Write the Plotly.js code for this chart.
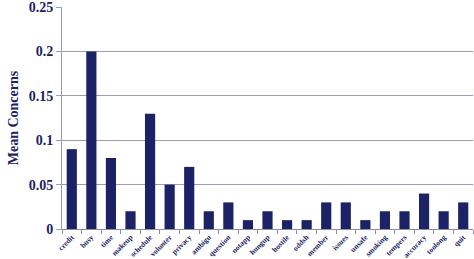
<!DOCTYPE html>
<html><head><meta charset="utf-8">
<script src="https://cdn.plot.ly/plotly-3.0.1.min.js"></script>
<style>html,body{margin:0;padding:0;background:#fff}</style>
</head><body><div id="c" style="width:474px;height:259px"></div>
<script>
const categories = ["credit","busy","time","makeup","schedule","volunter","privacy","ambigu","question","notapp","hungup","hostile","oddsh","member","issues","unsafe","smoking","tempers","accuracy","toolong","quit"];
const meanConcerns = [0.09,0.2,0.08,0.02,0.13,0.05,0.07,0.02,0.03,0.01,0.02,0.01,0.01,0.03,0.03,0.01,0.02,0.02,0.04,0.02,0.03];
const yTicks = [0,0.05,0.1,0.15,0.2,0.25];
const yTickLabels = ["0","0.05","0.1","0.15","0.2","0.25"];
const navy = "#1c2266";
Plotly.newPlot("c",[{type:"bar",x:categories,y:meanConcerns,marker:{color:navy,line:{width:0}},hoverinfo:"none"}],{
  width:474,height:259,margin:{l:62,r:1,t:7,b:30},
  paper_bgcolor:"#fff",plot_bgcolor:"#fff",bargap:0.48,showlegend:false,
  font:{family:"Liberation Serif, Times New Roman, serif",color:navy},
  xaxis:{type:"category",tickangle:-45,tickfont:{size:7.5,family:"Liberation Serif",weight:"bold",color:navy},
    ticks:"outside",tickson:"boundaries",ticklen:4,tickcolor:"#8a8fa8",showline:true,linecolor:"#8a8fa8",showgrid:false,automargin:false},
  yaxis:{range:[0,0.2502],tickvals:yTicks,ticktext:yTickLabels,showgrid:true,gridcolor:"#9a9cb5",gridwidth:1,
    ticks:"outside",ticklen:5,tickcolor:"#9a9cb5",showline:true,linecolor:"#9a9cb5",zeroline:false,
    tickfont:{size:14,family:"Liberation Serif",weight:"bold",color:navy},automargin:false,
    title:{text:"Mean Concerns",font:{size:14,family:"Liberation Serif",weight:"bold",color:navy},standoff:6}}
},{staticPlot:true});
</script></body></html>
